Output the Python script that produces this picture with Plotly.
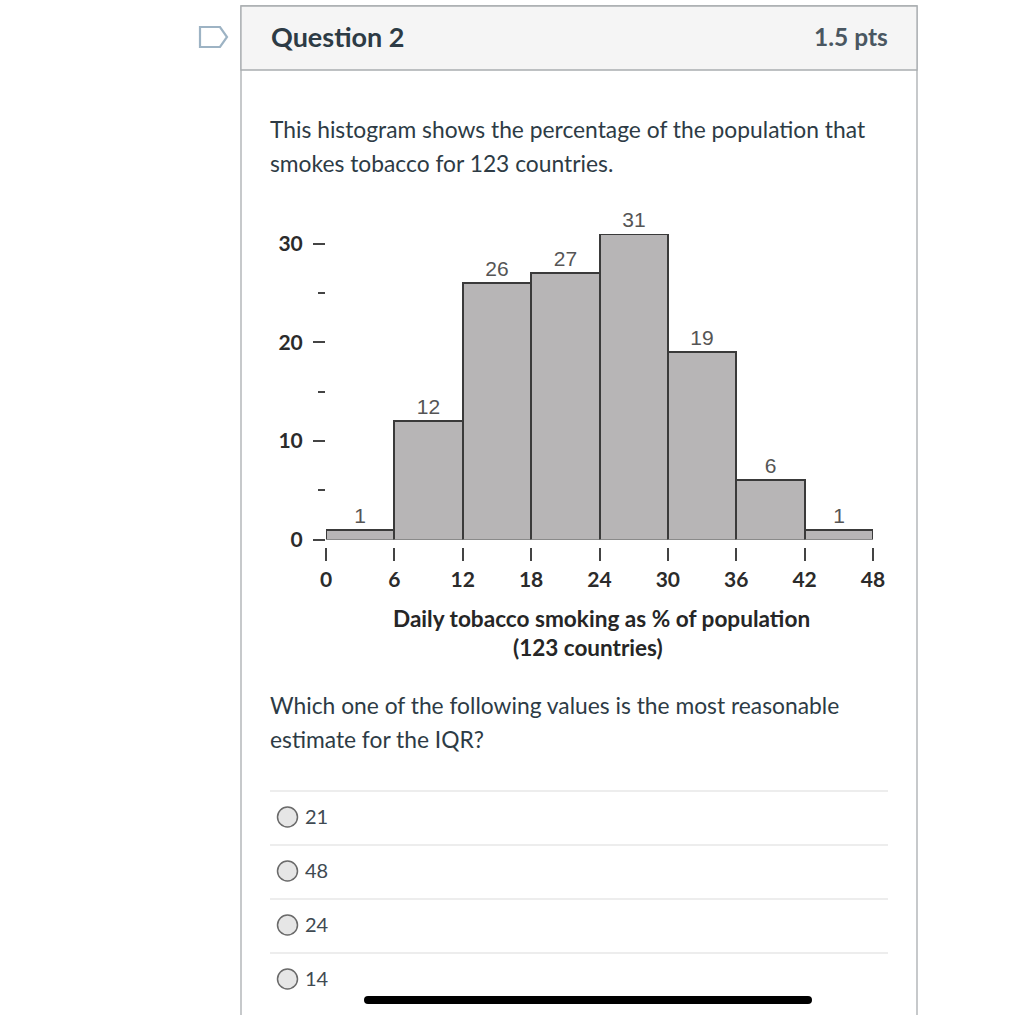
import plotly.graph_objects as go

W, H = 1024, 1015

# Chart data
bin_starts = [0, 6, 12, 18, 24, 30, 36, 42]
bin_width = 6
counts = [1, 12, 26, 27, 31, 19, 6, 1]
x_ticks = [0, 6, 12, 18, 24, 30, 36, 42, 48]
y_ticks = [0, 10, 20, 30]

# Page text
question_title = "Question 2"
question_points = "1.5 pts"
intro_lines = ["This histogram shows the percentage of the population that",
               "smokes tobacco for 123 countries."]
axis_title_lines = ["Daily tobacco smoking as % of population", "(123 countries)"]
prompt_lines = ["Which one of the following values is the most reasonable",
                "estimate for the IQR?"]
answers = ["21", "48", "24", "14"]


def fx(p):
    return p / W


def fy(p):
    return 1 - p / H


def label(text, x, y, size, color="#2d3b45", anchor="left", bold=False, family="Lato"):
    return dict(text=f"<b>{text}</b>" if bold else text, x=fx(x), y=fy(y), xref="paper", yref="paper",
                xanchor=anchor, yanchor="middle", showarrow=False,
                font=dict(family=family, size=size, color=color))


def rect(x0, y0, x1, y1, fill="rgba(0,0,0,0)", line="rgba(0,0,0,0)", width=1, layer="below"):
    return dict(type="rect", xref="paper", yref="paper", x0=fx(x0), x1=fx(x1), y0=fy(y0), y1=fy(y1),
                fillcolor=fill, line=dict(color=line, width=width), layer=layer)


def hline(x0, x1, y, color="#dcdcdc", width=1.2):
    return dict(type="line", xref="paper", yref="paper", x0=fx(x0), x1=fx(x1), y0=fy(y), y1=fy(y),
                line=dict(color=color, width=width), layer="below")


fig = go.Figure(go.Bar(
    x=[s + bin_width / 2 for s in bin_starts], y=counts, width=bin_width,
    marker=dict(color="#b7b5b6", line=dict(color="#3a3a3a", width=2)),
    text=[str(c) for c in counts], textposition="outside", cliponaxis=False,
    textfont=dict(family="Liberation Sans", size=21, color="#555555"),
    hoverinfo="skip",
))

shapes = [
    rect(241, 6, 917, 1030, fill="#ffffff", line="#a9adb0", width=1.3),
    rect(241, 6, 917, 70, fill="#f5f5f5", line="#a9adb0", width=1.3),
    dict(type="path", xref="paper", yref="paper", layer="below",
         path=f"M {fx(200)} {fy(27)} L {fx(220)} {fy(27)} L {fx(227)} {fy(37)} L {fx(220)} {fy(47)} "
              f"L {fx(200)} {fy(47)} Z",
         line=dict(color="#9db3c4", width=2.2), fillcolor="#ffffff"),
]
annotations = [
    label(question_title, 269, 37, 27, bold=True),
    label(question_points, 890, 37, 24.5, color="#4a5761", anchor="right", bold=True),
    label(intro_lines[0], 268, 129, 22.8),
    label(intro_lines[1], 268, 163, 22.8),
    label(axis_title_lines[0], 601, 618, 22.6, color="#262626", anchor="center", bold=True),
    label(axis_title_lines[1], 588, 647, 22.5, color="#262626", anchor="center", bold=True),
    label(prompt_lines[0], 268, 705, 22.8),
    label(prompt_lines[1], 268, 739, 22.8),
]

for i, a in enumerate(answers):
    row = 791 + 54 * i
    cy = 817 + 54 * i
    shapes.append(hline(270, 888, row))
    shapes.append(dict(type="circle", xref="paper", yref="paper", layer="below",
                       x0=fx(277.5), x1=fx(297.5), y0=fy(cy - 10), y1=fy(cy + 10),
                       fillcolor="#e6e6e6", line=dict(color="#6a6a6a", width=1.5)))
    annotations.append(label(a, 303, cy - 1.5, 20, color="#3f4a52"))

shapes.append(dict(type="path", xref="paper", yref="paper", layer="above",
                   path=f"M {fx(368)} {fy(996)} L {fx(808)} {fy(996)} Q {fx(812)} {fy(996)} {fx(812)} {fy(1000)} "
                        f"Q {fx(812)} {fy(1004)} {fx(808)} {fy(1004)} L {fx(368)} {fy(1004)} "
                        f"Q {fx(364)} {fy(1004)} {fx(364)} {fy(1000)} Q {fx(364)} {fy(996)} {fx(368)} {fy(996)} Z",
                   fillcolor="#000000", line=dict(width=0)))

fig.update_layout(
    width=W, height=H, margin=dict(l=0, r=0, t=0, b=0, autoexpand=False),
    paper_bgcolor="#ffffff", plot_bgcolor="rgba(0,0,0,0)", showlegend=False,
    bargap=0, shapes=shapes, annotations=annotations,
    xaxis=dict(domain=[fx(326), fx(873)], range=[0, 48], anchor="free", position=fy(547),
               tickvals=x_ticks, ticktext=[str(v) for v in x_ticks], ticks="outside", ticklen=13,
               tickwidth=2, tickcolor="#444444", showline=False, showgrid=False, zeroline=False,
               automargin=False, ticklabelstandoff=1,
               tickfont=dict(family="Lato", size=21, color="#2b2b2b", weight="bold")),
    yaxis=dict(domain=[fy(539.5), fy(234)], range=[0, 31], anchor="free", position=fx(325),
               tickvals=y_ticks, ticktext=[str(v) for v in y_ticks], ticks="outside", ticklen=12,
               tickwidth=2, tickcolor="#444444", showline=False, showgrid=False, zeroline=False,
               automargin=False, ticklabelstandoff=6,
               tickfont=dict(family="Lato", size=21, color="#2b2b2b", weight="bold"),
               minor=dict(tickvals=[5, 15, 25], ticks="outside", ticklen=7, tickwidth=2, tickcolor="#444444")),
)

fig.write_html("out.html", config=dict(displayModeBar=False),
               post_script="document.body.style.margin='0';")
